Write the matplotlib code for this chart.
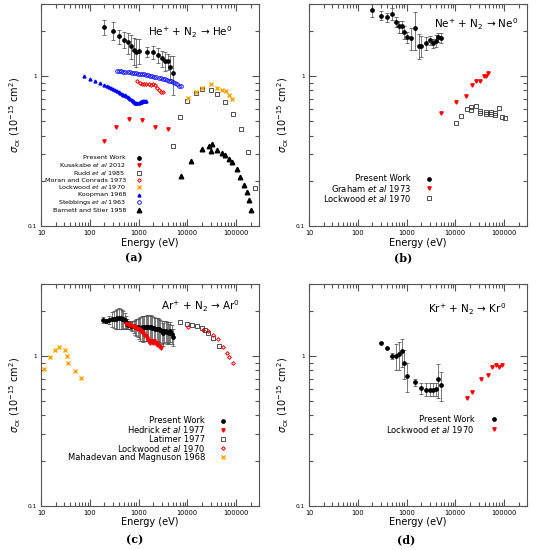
import matplotlib
matplotlib.use("Agg")
import matplotlib.pyplot as plt
from matplotlib.ticker import LogLocator, NullFormatter

plt.rcParams['font.family'] = ['DejaVu Sans']
plt.rcParams['mathtext.fontset'] = 'dejavusans'

# ---------- (a) He+ + N2 ----------
he_pw_E = [200, 300, 400, 500, 600, 700, 800, 900, 1000, 1500, 2000, 2500, 3000, 3500, 4000, 4500, 5000]
he_pw_s = [2.10, 2.00, 1.83, 1.74, 1.67, 1.59, 1.48, 1.45, 1.47, 1.45, 1.43, 1.37, 1.31, 1.25, 1.25, 1.15, 1.05]
he_pw_err = [0.24, 0.27, 0.2, 0.22, 0.27, 0.29, 0.3, 0.3, 0.28, 0.11, 0.14, 0.15, 0.16, 0.18, 0.15, 0.2, 0.3]

kusakabe_E = [200, 350, 640, 1200, 2200, 4000]
kusakabe_s = [0.367, 0.457, 0.514, 0.504, 0.459, 0.443]

rudd_E = [5000, 7000, 10000, 15000, 20000, 30000, 40000, 60000, 88000, 125000, 175000, 250000]
rudd_s = [0.34, 0.53, 0.675, 0.77, 0.82, 0.81, 0.76, 0.665, 0.56, 0.44, 0.31, 0.18]

moran_E = [950, 1085, 1170, 1310, 1440, 1610, 1800, 1950, 2140, 2400, 2600, 2900, 3130]
moran_s = [0.93, 0.894, 0.875, 0.88, 0.885, 0.875, 0.871, 0.885, 0.862, 0.828, 0.80, 0.78, 0.78]

lock_he_E = [10300, 14800, 20400, 30300, 41500, 52500, 61500, 72000, 82600]
lock_he_s = [0.71, 0.78, 0.83, 0.88, 0.83, 0.80, 0.79, 0.74, 0.70]

koopman_E = [76, 100, 130, 165, 200, 225, 250, 275, 300, 330, 360, 390, 420, 450, 480, 520, 560, 600,
             640, 680, 720, 760, 800, 850, 900, 950, 1000, 1050, 1100, 1150, 1200, 1250, 1300, 1350, 1400]
koopman_s = [0.99, 0.955, 0.93, 0.90, 0.87, 0.86, 0.845, 0.83, 0.815, 0.80, 0.79, 0.78, 0.77, 0.76, 0.75,
             0.74, 0.73, 0.72, 0.71, 0.70, 0.69, 0.68, 0.67, 0.66, 0.655, 0.66, 0.66, 0.665, 0.67, 0.67,
             0.675, 0.675, 0.68, 0.68, 0.68]

stebbings_E = [360, 400, 440, 490, 540, 600, 660, 730, 800, 880, 970, 1070, 1180, 1300, 1430, 1580,
               1740, 1920, 2110, 2330, 2570, 2830, 3120, 3440, 3790, 4180, 4600, 5070, 5590, 6160, 6790, 7500]
stebbings_s = [1.08, 1.075, 1.07, 1.065, 1.06, 1.06, 1.055, 1.05, 1.045, 1.04, 1.035, 1.03, 1.025, 1.02,
               1.01, 1.005, 1.0, 0.99, 0.985, 0.975, 0.97, 0.96, 0.955, 0.945, 0.935, 0.93, 0.92, 0.905,
               0.89, 0.875, 0.86, 0.85]

barnett_E = [7500, 12000, 20000, 28300, 30200, 32000, 40500, 50600, 60000, 71600, 81000, 103000,
             123000, 146000, 169000, 186000, 207000]
barnett_s = [0.216, 0.272, 0.324, 0.341, 0.318, 0.349, 0.321, 0.307, 0.299, 0.281, 0.266, 0.24,
             0.211, 0.188, 0.169, 0.149, 0.127]

# ---------- (b) Ne+ + N2 ----------
ne_pw_E = [200, 300, 400, 500, 600, 700, 800, 900, 1000, 1250, 1500, 1800, 2000, 2500, 3000, 3500, 4000, 4500, 5000]
ne_pw_s = [2.75, 2.51, 2.46, 2.59, 2.28, 2.13, 2.13, 1.96, 1.80, 1.78, 2.08, 1.59, 1.59, 1.65, 1.72, 1.65, 1.71, 1.80, 1.79]
ne_pw_err = [0.3, 0.17, 0.17, 0.25, 0.17, 0.2, 0.2, 0.19, 0.16, 0.3, 0.59, 0.3, 0.25, 0.17, 0.12, 0.12, 0.15, 0.13, 0.13]

graham_E = [5000, 10500, 16500, 22000, 27000, 32500, 38500, 43000, 46500]
graham_s = [0.564, 0.664, 0.735, 0.862, 0.925, 0.925, 1.0, 1.0, 1.04]

lock_ne_E = [10200, 12900, 17200, 21000, 21400, 26300, 31800, 31800, 42400, 42400, 53000, 53000,
             64800, 64800, 77600, 93000, 107000]
lock_ne_s = [0.483, 0.541, 0.603, 0.62, 0.595, 0.634, 0.587, 0.567, 0.578, 0.556, 0.578, 0.555,
             0.561, 0.545, 0.612, 0.535, 0.522]

# ---------- (c) Ar+ + N2 ----------
ar_pw_E = [190, 215, 250, 280, 310, 340, 370, 400, 430, 460, 490, 520, 550, 580, 620, 660, 700, 750,
           800, 850, 900, 960, 1020, 1090, 1160, 1240, 1320, 1400, 1500, 1600, 1700, 1800, 1920, 2050,
           2200, 2350, 2500, 2650, 2800, 3000, 3200, 3400, 3600, 3800, 4000, 4250, 4500, 4750, 5000]
ar_pw_s = [1.73, 1.71, 1.74, 1.76, 1.76, 1.77, 1.79, 1.80, 1.79, 1.77, 1.76, 1.73, 1.68, 1.64, 1.61,
           1.60, 1.59, 1.58, 1.57, 1.56, 1.55, 1.55, 1.54, 1.54, 1.55, 1.54, 1.55, 1.55, 1.56, 1.56,
           1.55, 1.56, 1.54, 1.53, 1.52, 1.51, 1.52, 1.50, 1.48, 1.46, 1.41, 1.46, 1.47, 1.44, 1.45,
           1.42, 1.46, 1.40, 1.34]
ar_pw_err = [0.08, 0.06, 0.1, 0.2, 0.22, 0.25, 0.27, 0.28, 0.27, 0.26, 0.24, 0.2, 0.16, 0.12, 0.1,
             0.1, 0.1, 0.12, 0.14, 0.18, 0.2, 0.22, 0.25, 0.28, 0.3, 0.3, 0.3, 0.3, 0.3, 0.3, 0.3, 0.3,
             0.3, 0.3, 0.28, 0.28, 0.27, 0.27, 0.26, 0.26, 0.25, 0.25, 0.24, 0.24, 0.24, 0.22, 0.22,
             0.2, 0.18]

hedrick_E = [560, 600, 640, 680, 720, 760, 800, 850, 900, 950, 1000, 1060, 1120, 1180, 1250, 1320,
             1400, 1480, 1560, 1640, 1720, 1800, 1880, 1960, 2050, 2150, 2250, 2350, 2450, 2600, 2750, 2900]
hedrick_s = [1.63, 1.62, 1.61, 1.60, 1.59, 1.575, 1.56, 1.55, 1.535, 1.52, 1.51, 1.49, 1.465, 1.44,
             1.41, 1.38, 1.35, 1.31, 1.27, 1.24, 1.22, 1.26, 1.24, 1.22, 1.25, 1.21, 1.22, 1.19, 1.20,
             1.17, 1.15, 1.13]

latimer_E = [7100, 10000, 12700, 15500, 19800, 22800, 26800, 33000, 43800]
latimer_s = [1.69, 1.64, 1.60, 1.58, 1.53, 1.48, 1.42, 1.32, 1.16]

lock_ar_E = [10300, 21000, 26000, 33000, 42000, 53000, 64200, 72800, 85000]
lock_ar_s = [1.56, 1.48, 1.46, 1.37, 1.29, 1.14, 1.05, 0.985, 0.90]

mahadevan_E = [11.3, 15.4, 19.8, 23.2, 31.4, 33.4, 35.5, 50.5, 67.2]
mahadevan_s = [0.82, 0.985, 1.10, 1.15, 1.09, 1.0, 0.90, 0.787, 0.713]

# ---------- (d) Kr+ + N2 ----------
kr_pw_E = [300, 400, 500, 600, 700, 800, 900, 1000, 1500, 2000, 2500, 3000, 3500, 4000, 4500, 5000]
kr_pw_s = [1.22, 1.12, 1.0, 1.0, 1.025, 1.07, 0.90, 0.73, 0.665, 0.61, 0.596, 0.596, 0.596, 0.60, 0.70, 0.642]
kr_pw_err = [0.01, 0.01, 0.04, 0.2, 0.22, 0.23, 0.2, 0.16, 0.04, 0.05, 0.06, 0.06, 0.06, 0.06, 0.18, 0.14]

lock_kr_E = [17000, 22000, 34000, 46000, 57000, 68000, 79000, 92000]
lock_kr_s = [0.527, 0.571, 0.70, 0.748, 0.84, 0.87, 0.84, 0.87]

# marker styles
PW = dict(marker='o', ms=2.4, color='k', ls='none')
RED_V = dict(marker='v', ms=2.4, color='red', ls='none')
SQ = dict(marker='s', ms=2.6, mfc='none', mec='#333333', mew=0.6, ls='none')
DIA = dict(marker='D', ms=1.9, mfc='none', mec='red', mew=0.7, ls='none')
ORX = dict(marker='x', ms=2.6, mec='orange', mew=1.0, ls='none')
BLUE_T = dict(marker='^', ms=2.1, color='blue', ls='none')
BLUE_O = dict(marker='o', ms=2.6, mfc='none', mec='blue', mew=0.6, ls='none')
BLK_T = dict(marker='^', ms=3.3, color='k', ls='none')

fig = plt.figure(figsize=(5.38, 5.5), dpi=100)
ax_a = fig.add_axes([0.0762, 0.589, 0.4058, 0.4036])
ax_b = fig.add_axes([0.5743, 0.589, 0.4058, 0.4036])
ax_c = fig.add_axes([0.0762, 0.0805, 0.4058, 0.4025])
ax_d = fig.add_axes([0.5743, 0.0805, 0.4058, 0.4025])


def style(ax):
    ax.set_xscale('log')
    ax.set_yscale('log')
    ax.set_xlim(10, 3e5)
    ax.set_ylim(0.1, 3)
    ax.set_xticks([10, 100, 1000, 10000, 100000])
    ax.set_xticklabels(['10', '100', '1000', '10000', '100000'])
    ax.set_yticks([0.1, 1])
    ax.set_yticklabels(['0.1', '1'])
    ax.xaxis.set_minor_locator(LogLocator(base=10, subs=range(2, 10), numticks=20))
    ax.yaxis.set_minor_locator(LogLocator(base=10, subs=range(2, 10), numticks=20))
    ax.xaxis.set_minor_formatter(NullFormatter())
    ax.yaxis.set_minor_formatter(NullFormatter())
    ax.tick_params(which='both', direction='in', top=True, right=True, color='#555555', width=0.8)
    ax.tick_params(which='major', length=5)
    ax.tick_params(which='minor', length=3)
    ax.tick_params(axis='x', labelsize=4.8, pad=3)
    ax.tick_params(axis='y', labelsize=4.2, pad=3)
    for sp in ax.spines.values():
        sp.set_color('#555555')
        sp.set_linewidth(0.8)
    ax.set_xlabel('Energy (eV)', fontsize=7, labelpad=1)
    ax.set_ylabel(r'$\sigma_{\mathrm{cx}}$ (10$^{-15}$ cm$^{2}$)', fontsize=7, labelpad=3)


def legend(ax, entries, xt, xm, ys, fs):
    for (label, st), y in zip(entries, ys):
        ax.text(xt, y, label, transform=ax.transAxes, ha='right', va='center', fontsize=fs)
        ax.plot([xm], [y], transform=ax.transAxes, **st)


def pw(ax, E, s, err):
    ax.errorbar(E, s, yerr=err, fmt='none', ecolor='#444444', elinewidth=0.5, capsize=1.4, capthick=0.5)
    ax.plot(E, s, **PW)


# (a)
style(ax_a)
pw(ax_a, he_pw_E, he_pw_s, he_pw_err)
ax_a.plot(kusakabe_E, kusakabe_s, **RED_V)
ax_a.plot(rudd_E, rudd_s, **SQ)
ax_a.plot(moran_E, moran_s, **DIA)
ax_a.plot(lock_he_E, lock_he_s, **ORX)
ax_a.plot(koopman_E, koopman_s, **BLUE_T)
ax_a.plot(stebbings_E, stebbings_s, **BLUE_O)
ax_a.plot(barnett_E, barnett_s, **BLK_T)
ax_a.text(0.875, 0.874, r'He$^{+}$ + N$_{2}$ → He$^{0}$', transform=ax_a.transAxes,
          ha='right', va='center', fontsize=7.5)
legend(ax_a, [('Present Work', PW),
              (r'Kusakabe $\it{et\ al}$ 2012', RED_V),
              (r'Rudd $\it{et\ al}$ 1985', SQ),
              ('Moran and Conrads 1973', DIA),
              (r'Lockwood $\it{et\ al}$ 1970', ORX),
              ('Koopman 1968', BLUE_T),
              (r'Stebbings $\it{et\ al}$ 1963', BLUE_O),
              ('Barnett and Stier 1958', BLK_T)],
       0.389, 0.449, [0.308, 0.276, 0.240, 0.207, 0.174, 0.140, 0.107, 0.072], 4.6)

# (b)
style(ax_b)
pw(ax_b, ne_pw_E, ne_pw_s, ne_pw_err)
ax_b.plot(graham_E, graham_s, **RED_V)
ax_b.plot(lock_ne_E, lock_ne_s, **SQ)
ax_b.text(0.957, 0.91, r'Ne$^{+}$ + N$_{2}$ → Ne$^{0}$', transform=ax_b.transAxes,
          ha='right', va='center', fontsize=7.5)
legend(ax_b, [('Present Work', PW),
              (r'Graham $\it{et\ al}$ 1973', RED_V),
              (r'Lockwood $\it{et\ al}$ 1970', SQ)],
       0.467, 0.55, [0.214, 0.170, 0.126], 6.0)

# (c)
style(ax_c)
pw(ax_c, ar_pw_E, ar_pw_s, ar_pw_err)
ax_c.plot(hedrick_E, hedrick_s, **RED_V)
ax_c.plot(latimer_E, latimer_s, **SQ)
ax_c.plot(lock_ar_E, lock_ar_s, **DIA)
ax_c.plot(mahadevan_E, mahadevan_s, **ORX)
ax_c.text(0.912, 0.903, r'Ar$^{+}$ + N$_{2}$ → Ar$^{0}$', transform=ax_c.transAxes,
          ha='right', va='center', fontsize=7.5)
legend(ax_c, [('Present Work', PW),
              (r'Hedrick $\it{et\ al}$ 1977', RED_V),
              ('Latimer 1977', SQ),
              (r'Lockwood $\it{et\ al}$ 1970', DIA),
              ('Mahadevan and Magnuson 1968', ORX)],
       0.751, 0.832, [0.384, 0.343, 0.301, 0.259, 0.219], 6.0)

# (d)
style(ax_d)
pw(ax_d, kr_pw_E, kr_pw_s, kr_pw_err)
ax_d.plot(lock_kr_E, lock_kr_s, **RED_V)
ax_d.text(0.902, 0.89, r'Kr$^{+}$ + N$_{2}$ → Kr$^{0}$', transform=ax_d.transAxes,
          ha='right', va='center', fontsize=7.5)
legend(ax_d, [('Present Work', PW),
              (r'Lockwood $\it{et\ al}$ 1970', RED_V)],
       0.759, 0.847, [0.390, 0.346], 6.0)

for lab, x, y in [('(a)', 134, 258), ('(b)', 403, 258), ('(c)', 135, 540), ('(d)', 406, 540)]:
    fig.text(x / 538, 1 - y / 550, lab, ha='center', va='center', fontsize=8,
             family='DejaVu Serif', weight='bold')

fig.savefig('out.png', dpi=100)
